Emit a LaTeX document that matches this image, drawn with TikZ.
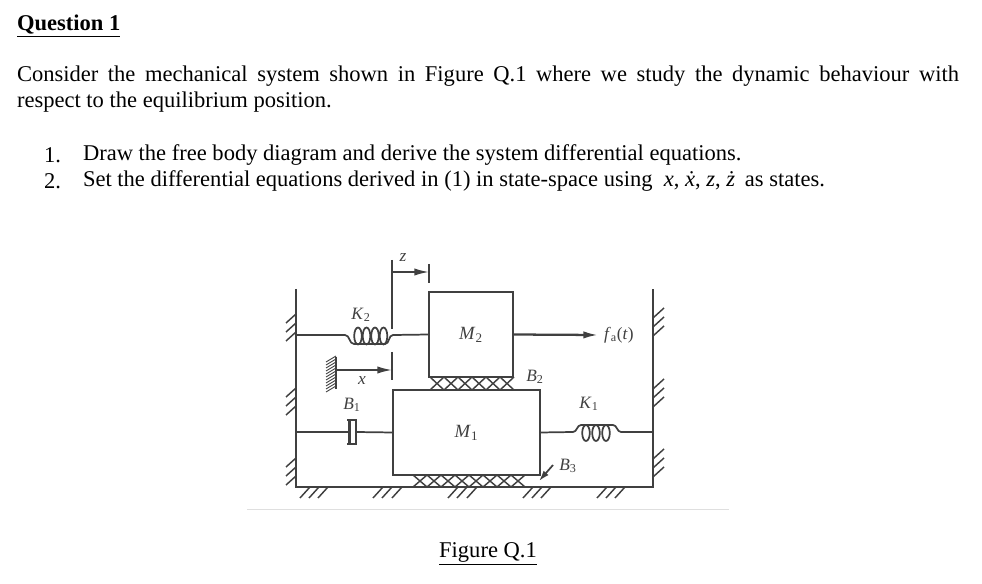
\documentclass[tikz,border=0pt]{standalone}
\usepackage{fontspec}
\setmainfont{Liberation Serif}
\usetikzlibrary{arrows.meta}
\usetikzlibrary{positioning}
\usetikzlibrary{calc}
\newcommand{\sym}[2]{\textit{#1}\textsubscript{#2}}
\tikzset{
  txt/.style={anchor=west, inner sep=0pt, outer sep=0pt, font=\fontsize{16.9pt}{19.5pt}\selectfont},
  lab/.style={inner sep=0pt, outer sep=0pt, text=figline, font=\fontsize{13pt}{15pt}\selectfont},
  mass/.style={draw=figline, line width=1.3pt, inner sep=0pt, outer sep=0pt, text=figline, font=\fontsize{14pt}{16pt}\selectfont},
  ln/.style={draw=figline, line width=1.3pt},
  hatch/.style={draw=figline, line width=1.1pt},
  tip/.style={-{Latex[length=11pt,width=5.5pt]}}
}
\definecolor{figline}{gray}{0.25}
\begin{document}
\begin{tikzpicture}[x=0.75pt, y=-0.75pt]
  \useasboundingbox (0,0) rectangle (982,584);

  % question text
  \node[txt, font=\fontsize{16.9pt}{19.5pt}\selectfont\bfseries] (title) at (17,26) {\underline{Question 1}};
  \node[txt, text width=706.5pt, align=justify] (intro) at (17,89.5) {Consider the mechanical system shown in Figure Q.1 where we study the dynamic behaviour with\linebreak respect to the equilibrium position.};
  \node[txt] (n1) at (44,155) {1.};
  \node[txt] (t1) at (83,155) {Draw the free body diagram and derive the system differential equations.};
  \node[txt] (n2) at (44,181) {2.};
  \node[txt] (t2) at (83,181) {Set the differential equations derived in (1) in state-space using~ \textit{x}, \textit{\.x}, \textit{z}, \textit{\.z}\hspace{3pt} as states.};

  % masses
  \node[mass, minimum width=63pt, minimum height=63.75pt] (M2) at (471,334.5) {\sym{M}{2}};
  \node[mass, minimum width=110.25pt, minimum height=63.75pt] (M1) at (466.5,432.5) {\sym{M}{1}};

  % walls and ground
  \draw[ln] (296,289) -- (296,487) -- (653,487) -- (653,289);
  \foreach \y in {322,331,340, 396,405,414, 466,475,484}
    \draw[hatch] (296,\y-8) -- (286,\y+1);
  \foreach \y in {316,325,334, 387,396,405, 457,466,475}
    \draw[hatch] (653,\y+2) -- (664,\y-8);
  \foreach \x in {310,319,328, 383,392,402, 458,467,477, 533,542,551, 607,616,625}
    \draw[hatch] (\x,487) -- (\x-10,498);
  \draw[gray!25, line width=0.6pt] (247,509) -- (729,509);

  % rollers
  \foreach \i in {0,...,5}
    \draw[hatch] (430+14*\i,377) -- (444+14*\i,390) (444+14*\i,377) -- (430+14*\i,390);
  \foreach \i in {0,...,7}
    \draw[hatch] (413+14*\i,475) -- (427+14*\i,487) (427+14*\i,475) -- (413+14*\i,487);

  % spring K2
  \coordinate (k2a) at (296,335);
  \coordinate (k2b) at (393,335);
  \draw[ln] (k2a) -- (345,335) to[out=0, in=180] (354,344) -- (385,344) to[out=0, in=180] (393,335) -- (M2.west);
  \foreach \x in {358,366.5,375,383.5}
    \draw[ln] (\x,336) ellipse [x radius=3.8, y radius=8.5];
  \node[lab] (K2) at (361,315) {\sym{K}{2}};

  % spring K1
  \coordinate (k1b) at (653,432);
  \draw[ln] (M1.east) -- (573,432) to[out=0, in=180] (581,425) -- (613,425) to[out=0, in=180] (621,432) -- (k1b);
  \foreach \x in {586,596,606}
    \draw[ln] (\x,433) ellipse [x radius=3.8, y radius=8];
  \node[lab] (K1) at (589,404) {\sym{K}{1}};

  % damper B1
  \coordinate (b1a) at (296,432);
  \coordinate (b1b) at (349,432);
  \coordinate (b1c) at (356,432);
  \draw[ln] (b1a) -- (b1b);
  \draw[ln] (b1c) -- (M1.west);
  \draw[ln] (347,420) -- (356,420) -- (356,444) -- (347,444);
  \draw[ln, line width=1.6pt] (349.5,421) -- (349.5,443);
  \node[lab] (B1) at (352,405) {\sym{B}{1}};

  % displacement z
  \coordinate (zfoot) at (392,272);
  \coordinate (ztick) at (429,272);
  \draw[ln] (392,260) -- (392,329);
  \draw[ln] (392,352) -- (392,380);
  \draw[ln] (429,264) -- (429,283);
  \draw[ln, tip] (zfoot) -- (ztick);
  \node[lab] (zlab) at (403,258) {\textit{z}};

  % displacement x
  \coordinate (xend) at (392,370);
  \foreach \y in {358,361,...,388}
    \draw[draw=figline, line width=0.7pt] (336,\y-2) -- (326,\y+4);
  \draw[ln] (336,357) -- (336,389);
  \coordinate (xfoot) at (336,370);
  \draw[ln, tip] (xfoot) -- (xend);
  \node[lab] (xlab) at (362,381) {\textit{x}};

  % force
  \node[lab, anchor=west] (fa) at (604,335) {\textit{f}\textsubscript{a}(\textit{t})};
  \draw[ln, line width=1.7pt, tip] (M2.east) -- (598,335);

  % labels B2, B3
  \node[lab] (B2) at (535,377) {\sym{B}{2}};
  \node[lab] (B3) at (568,466) {\sym{B}{3}};
  \draw[ln, {Latex[length=8pt,width=5pt]}-] (539,481) -- (553,465);

  % caption
  \node[txt, anchor=center] (cap) at (488,554) {\underline{Figure Q.1}};
\end{tikzpicture}
\end{document}
